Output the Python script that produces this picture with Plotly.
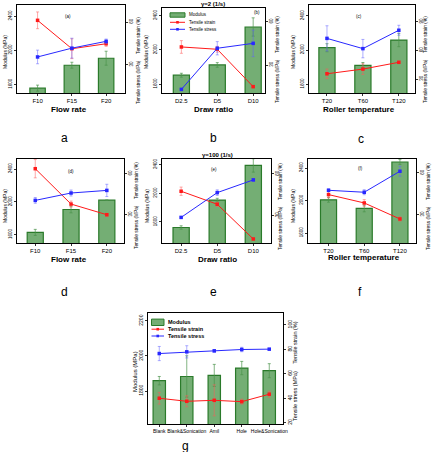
import plotly.graph_objects as go

# ---------------- data ----------------
flow_rate = ["F10", "F15", "F20"]
draw_ratio = ["D2.5", "D5", "D10"]
roller_temp = ["T20", "T60", "T120"]
treatments = ["Blank", "Blank&Sonication", "Amil", "Hole", "Hole&Sonication"]

# (a) flow rate, gamma = 2
a_modulus = [1557, 1825, 1907]
a_modulus_err = [35, 35, 82]
a_strain = [61.2, 41.2, 44.7]
a_strain_err = [5.9, 7.0, 1.8]
a_stress = [35.4, 41.6, 46.4]
a_stress_err = [4.8, 7.0, 1.6]

# (b) draw ratio, gamma = 2
b_modulus = [1705, 1825, 2269]
b_modulus_err = [23, 27, 107]
b_strain = [42.5, 40.9, 15.0]
b_strain_err = [4.4, 2.0, 0.0]
b_stress = [13.1, 41.6, 45.0]
b_stress_err = [0.5, 4.6, 9.2]

# (c) roller temperature, gamma = 2
c_modulus = [2027, 1821, 2117]
c_modulus_err = [47, 33, 78]
c_strain = [35.5, 40.4, 47.5]
c_strain_err = [5.0, 5.6, 1.0]
c_stress = [72.5, 61.8, 81.0]
c_stress_err = [13.2, 9.6, 5.2]

# (d) flow rate, gamma = 100
d_modulus = [1628, 1907, 2021]
d_modulus_err = [37, 41, 0]
d_strain = [63.7, 37.8, 30.0]
d_strain_err = [6.7, 2.2, 1.0]
d_stress = [40.5, 45.9, 47.8]
d_stress_err = [2.1, 2.2, 4.5]

# (e) draw ratio, gamma = 100
e_modulus = [1521, 1905, 2390]
e_modulus_err = [24, 25, 94]
e_strain = [47.4, 38.0, 12.9]
e_strain_err = [3.0, 1.5, 0.0]
e_stress = [28.5, 46.4, 55.6]
e_stress_err = [0.5, 2.0, 1.0]

# (f) roller temperature, gamma = 100
f_modulus = [2009, 1902, 2474]
f_modulus_err = [30, 41, 30]
f_strain = [44.4, 38.4, 26.9]
f_strain_err = [2.4, 2.4, 1.5]
f_stress = [47.5, 46.1, 61.2]
f_stress_err = [1.0, 1.8, 3.6]

# (g) treatments
g_modulus = [1859, 1883, 1889, 1931, 1916]
g_modulus_err = [24, 118, 63, 38, 40]
g_strain = [40.0, 37.5, 38.3, 37.2, 43.3]
g_strain_err = [4.8, 4.5, 12.7, 2.0, 2.5]
g_stress = [76.6, 78.0, 78.8, 79.9, 80.2]
g_stress_err = [5.8, 5.0, 1.0, 1.8, 0.5]

modulus_ticks = [1600, 2000, 2400]
g_modulus_ticks = [1600, 1800, 2000, 2200]
right_ticks = [30, 60]
c_right_ticks = [30, 60, 90]
g_right_ticks = [20, 40, 60, 80, 100]

x_titles = ["Flow rate", "Draw ratio", "Roller temperature",
            "Flow rate", "Draw ratio", "Roller temperature"]
panel_letters = ["a", "b", "c", "d", "e", "f", "g"]
inner_labels = ["(a)", "(b)", "(c)", "(d)", "(e)", "(f)"]
shear_titles = ["γ=2 (1/s)", "γ=100 (1/s)"]
legend_names = ["Modulus", "Tensile strain", "Tensile stress"]
left_title = "Modulus (MPa)"
right_title = "Tensile stress (MPa)     Tensile strain (%)"

panels_data = [
    (flow_rate, a_modulus, a_modulus_err, a_strain, a_strain_err, a_stress, a_stress_err),
    (draw_ratio, b_modulus, b_modulus_err, b_strain, b_strain_err, b_stress, b_stress_err),
    (roller_temp, c_modulus, c_modulus_err, c_strain, c_strain_err, c_stress, c_stress_err),
    (flow_rate, d_modulus, d_modulus_err, d_strain, d_strain_err, d_stress, d_stress_err),
    (draw_ratio, e_modulus, e_modulus_err, e_strain, e_strain_err, e_stress, e_stress_err),
    (roller_temp, f_modulus, f_modulus_err, f_strain, f_strain_err, f_stress, f_stress_err),
    (treatments, g_modulus, g_modulus_err, g_strain, g_strain_err, g_stress, g_stress_err),
]
panel_ticks = [
    (modulus_ticks, right_ticks), (modulus_ticks, right_ticks), (modulus_ticks, c_right_ticks),
    (modulus_ticks, right_ticks), (modulus_ticks, right_ticks), (modulus_ticks, right_ticks),
    (g_modulus_ticks, g_right_ticks),
]

# ---------------- layout specs (pixels) ----------------
W, H = 436, 452
FONT = "Arial, Liberation Sans, sans-serif"
GREEN_FILL = "#74ae74"
GREEN_LINE = "#2a7a2a"
RED = "#ff1a1a"
BLUE = "#2828ff"

specs = [
    dict(box=(17, 125, 5, 93), xr=(-0.6, 2.55), yl=(1500, 2530), yr=(10, 72)),
    dict(box=(162, 265, 8, 93), xr=(-0.54, 2.33), yl=(1497, 2491), yr=(10.6, 69.5)),
    dict(box=(309, 415, 5, 93), xr=(-0.5, 2.45), yl=(1497, 2527), yr=(15.4, 107.4)),
    dict(box=(17, 124, 159, 243), xr=(-0.51, 2.48), yl=(1499, 2522), yr=(9.3, 70.8)),
    dict(box=(162, 271, 159, 243), xr=(-0.53, 2.49), yl=(1304, 2480), yr=(10, 70.7)),
    dict(box=(308, 416, 159, 243), xr=(-0.575, 2.45), yl=(1477, 2511), yr=(9.6, 70)),
    dict(box=(148, 283, 313, 424), xr=(-0.41, 4.5), yl=(1612, 2245), yr=(18.9, 109.8)),
]


def px(x):
    return x / W


def py(y):
    return 1 - y / H


fig = go.Figure()
lay = {}
for k, (d, s, t) in enumerate(zip(panels_data, specs, panel_ticks)):
    cats, mod, mod_e, strain, strain_e, stress, stress_e = d
    big = (k == 6)
    xa = "x" if k == 0 else f"x{k + 1}"
    yl = "y" if k == 0 else f"y{2 * k + 1}"
    yr = f"y{2 * k + 2}"
    fig.add_trace(go.Bar(
        x=cats, y=mod, width=0.45, xaxis=xa, yaxis=yl,
        marker=dict(color=GREEN_FILL, line=dict(color=GREEN_LINE, width=1.2)),
        error_y=dict(type="data", array=mod_e, color="#4c944c", thickness=0.7, width=1.5),
        base=0, showlegend=False))
    fig.add_trace(go.Scatter(
        x=cats, y=strain, mode="lines+markers", xaxis=xa, yaxis=yr,
        line=dict(color=RED, width=1), marker=dict(symbol="square", size=3.5, color=RED),
        error_y=dict(type="data", array=strain_e, color="rgba(255,90,90,0.75)", thickness=0.7, width=1.5),
        showlegend=False))
    fig.add_trace(go.Scatter(
        x=cats, y=stress, mode="lines+markers", xaxis=xa, yaxis=yr,
        line=dict(color=BLUE, width=1), marker=dict(symbol="square", size=3.5, color=BLUE),
        error_y=dict(type="data", array=stress_e, color="rgba(100,100,255,0.75)", thickness=0.7, width=1.5),
        showlegend=False))
    x0, x1, y0, y1 = s["box"]
    xk = "xaxis" if k == 0 else f"xaxis{k + 1}"
    ylk = "yaxis" if k == 0 else f"yaxis{2 * k + 1}"
    yrk = f"yaxis{2 * k + 2}"
    common = dict(showline=True, linecolor="black", linewidth=1, showgrid=False,
                  zeroline=False, ticks="outside", ticklen=2, tickwidth=0.8,
                  tickcolor="black", automargin=False)
    lay[xk] = dict(common, domain=[px(x0), px(x1)], anchor=yl, type="category",
                   range=list(s["xr"]), mirror=True, tickangle=0,
                   tickfont=dict(size=5 if big else 6, family=FONT, color="black"))
    lay[ylk] = dict(common, domain=[py(y1), py(y0)], anchor=xa, range=list(s["yl"]),
                    tickvals=t[0], tickangle=-90,
                    tickfont=dict(size=5 if big else 4.5, family=FONT, color="black"))
    lay[yrk] = dict(common, overlaying=yl, side="right", anchor=xa, range=list(s["yr"]),
                    tickvals=t[1], tickangle=-90,
                    tickfont=dict(size=5 if big else 4.5, family=FONT, color="black"))

ann = []


def text(t, x, y, size, bold=False, angle=0, xanchor="center"):
    ann.append(dict(text=f"<b>{t}</b>" if bold else t, x=px(x), y=py(y), xref="paper",
                    yref="paper", showarrow=False, textangle=angle, xanchor=xanchor,
                    yanchor="middle", font=dict(size=size, family=FONT, color="black")))


for t, (x, y) in zip(x_titles, [(69, 109), (213, 109), (359, 109), (69, 259), (217, 259), (364, 257)]):
    text(t, x, y, 8, bold=True)
for t, (x, y) in zip(panel_letters, [(64, 138), (213, 138), (361, 139), (64, 292), (213, 292),
                                     (360, 292), (185, 446)]):
    text(t, x, y, 12)
for t, (x, y) in zip(inner_labels, [(68, 16), (257, 13), (359, 16), (71, 171), (214, 169), (360, 168)]):
    text(t, x, y, 4.5)
for t, (x, y) in zip(shear_titles, [(213, 4), (217, 155)]):
    text(t, x, y, 6, bold=True)
for i, (x, y) in enumerate([(5, 52), (146, 52), (293, 52), (5, 206), (147, 206), (293, 206), (135, 372)]):
    text(left_title, x, y, 6 if i == 6 else 5, angle=-90)
for i, (x, y) in enumerate([(138, 61), (278, 60), (426, 60), (137, 206), (280, 207), (428, 207), (295, 371)]):
    text(right_title, x, y, 5.5 if i == 6 else 4.8, angle=-90)

shapes = []


def legend(x0, sw, ys, fs, bold):
    yc = ys[0]
    hh = 2.2 if fs < 5 else 3.2
    shapes.append(dict(type="rect", xref="paper", yref="paper", x0=px(x0), x1=px(x0 + sw),
                       y0=py(yc + hh), y1=py(yc - hh), fillcolor=GREEN_FILL,
                       line=dict(color=GREEN_LINE, width=1)))
    for col, yc2 in [(RED, ys[1]), (BLUE, ys[2])]:
        shapes.append(dict(type="line", xref="paper", yref="paper", x0=px(x0), x1=px(x0 + sw),
                           y0=py(yc2), y1=py(yc2), line=dict(color=col, width=1)))
        m = 1.3
        xc = x0 + sw / 2
        shapes.append(dict(type="rect", xref="paper", yref="paper", x0=px(xc - m), x1=px(xc + m),
                           y0=py(yc2 + m), y1=py(yc2 - m), fillcolor=col, line=dict(width=0)))
    for name, yy in zip(legend_names, ys):
        text(name, x0 + sw + 2, yy, fs, bold=bold, xanchor="left")


legend(170, 15, [15, 22.3, 29.3], 4.5, False)
legend(151.5, 12.5, [322.3, 329.2, 336], 5.5, True)

fig.update_layout(**lay)
fig.update_layout(width=W, height=H, autosize=False, margin=dict(l=0, r=0, t=0, b=0),
                  paper_bgcolor="white", plot_bgcolor="white", showlegend=False,
                  font=dict(family=FONT, color="black"), annotations=ann, shapes=shapes,
                  barmode="overlay")
fig.write_html("out.html",
               config={"displayModeBar": False, "staticPlot": True},
               post_script="document.documentElement.style.margin='0';"
                           "document.body.style.margin='0';"
                           "document.body.style.padding='0';"
                           "document.body.style.overflow='hidden';")
